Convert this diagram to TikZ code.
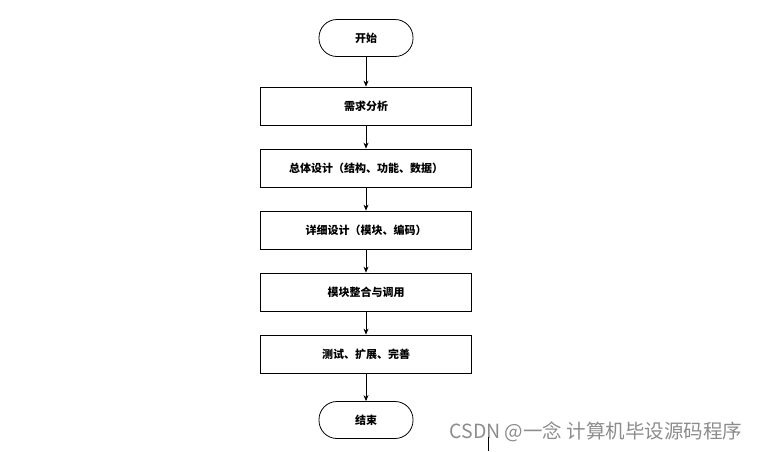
\documentclass[tikz,border=0pt]{standalone}
\usepackage{fontspec}
\usetikzlibrary{arrows.meta}
\newfontfamily\cjk{Noto Sans CJK SC}
\begin{document}
\begin{tikzpicture}[x=1pt,y=-1pt,
  stepbox/.style={draw,line width=0.8pt,minimum width=211pt,minimum height=38pt,font=\cjk\bfseries\fontsize{11}{13}\selectfont},
  term/.style={draw,line width=0.8pt,rounded corners=18pt,minimum width=94pt,minimum height=37pt,font=\cjk\bfseries\fontsize{11}{13}\selectfont},
  arr/.style={-{Stealth[length=6pt,width=5pt]},line width=0.7pt}]
\useasboundingbox (0,0) rectangle (762,451);
\node[term] (s) at (366,38) {开始};
\node[stepbox] (a) at (366,106) {需求分析};
\node[stepbox] (b) at (366,168) {总体设计（结构、功能、数据）};
\node[stepbox] (c) at (366,230) {详细设计（模块、编码）};
\node[stepbox] (d) at (366,292) {模块整合与调用};
\node[stepbox] (e) at (366,354) {测试、扩展、完善};
\node[term] (f) at (366,420) {结束};
\draw[arr] (s) -- (a);
\draw[arr] (a) -- (b);
\draw[arr] (b) -- (c);
\draw[arr] (c) -- (d);
\draw[arr] (d) -- (e);
\draw[arr] (e) -- (f);
\node[anchor=west,text=black!45,font=\cjk\fontsize{19.5}{22}\selectfont] (w) at (446,432) {CSDN @一念 计算机毕设源码程序};
\draw[line width=1pt] (488,437) -- (488,451);
\end{tikzpicture}
\end{document}
